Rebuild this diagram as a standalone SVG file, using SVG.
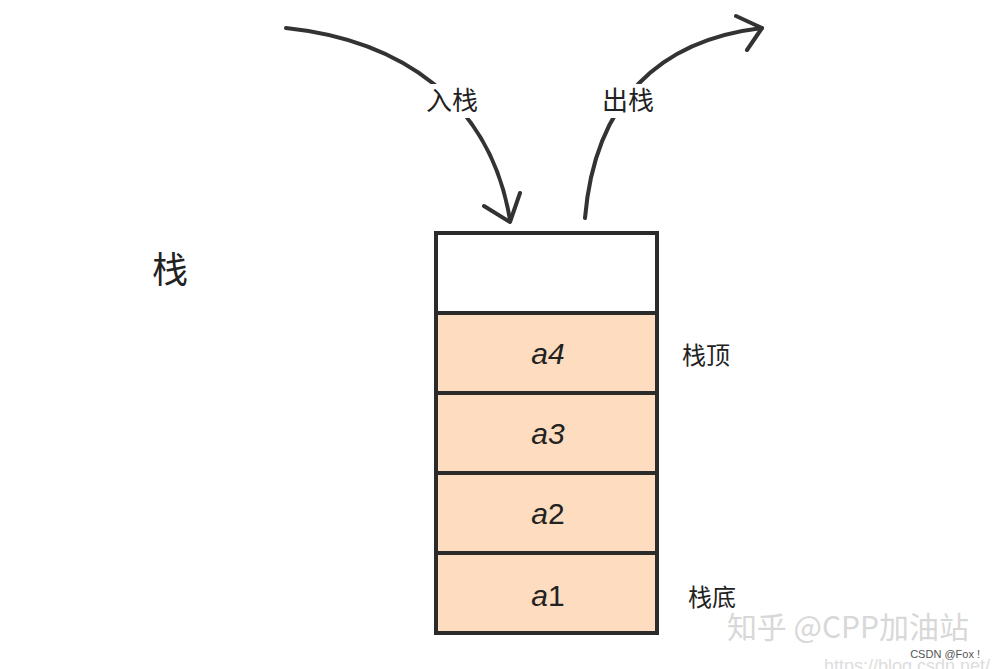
<svg xmlns="http://www.w3.org/2000/svg" width="995" height="669" viewBox="0 0 995 669">
<style>
.c{fill:#fddcbf;stroke:#2b2b2b;stroke-width:4}
.e{fill:#fff;stroke:#2b2b2b;stroke-width:4}
.t{font-family:"Noto Sans CJK SC","Liberation Sans",sans-serif;fill:#222}
.v{font-family:"Liberation Sans",sans-serif;font-size:30px;fill:#222;text-anchor:middle}
.a{fill:none;stroke:#333;stroke-width:4;stroke-linecap:round;stroke-linejoin:round}
</style>
<rect width="995" height="669" fill="#fff"/>
<g id="connectors">
<path class="a" d="M286,28 C400,40 490,100 510,220"/>
<path class="a" d="M484,206 L510,222 L520,193"/>
<path class="a" d="M585,218 C595,100 660,40 762,28"/>
<path class="a" d="M736,16 L762,28 L747,50"/>
<rect x="422" y="84" width="60" height="34" fill="#fff"/>
<rect x="598" y="84" width="60" height="34" fill="#fff"/>
<text class="t" x="452" y="110" font-size="26" text-anchor="middle">入栈</text>
<text class="t" x="628" y="110" font-size="26" text-anchor="middle">出栈</text>
</g>
<text class="t" x="170" y="283" font-size="36" text-anchor="middle">栈</text>
<g id="empty"><rect class="e" x="436" y="233" width="221" height="80"/></g>
<g id="a4"><rect class="c" x="436" y="313" width="221" height="80"/><text class="v" x="548" y="364" font-style="italic">a4</text></g>
<g id="a3"><rect class="c" x="436" y="393" width="221" height="80"/><text class="v" x="548" y="444" font-style="italic">a3</text></g>
<g id="a2"><rect class="c" x="436" y="473" width="221" height="80"/><text class="v" x="548" y="524"><tspan font-style="italic">a</tspan>2</text></g>
<g id="a1"><rect class="c" x="436" y="553" width="221" height="80"/><text class="v" x="548" y="606"><tspan font-style="italic">a</tspan>1</text></g>
<text class="t" x="706" y="364" font-size="24" text-anchor="middle">栈顶</text>
<text class="t" x="712" y="606" font-size="24" text-anchor="middle">栈底</text>
<text class="t" x="848" y="638" font-size="30" text-anchor="middle" style="fill:#d8d8d8">知乎 @CPP加油站</text>
<text x="980" y="658" font-family="Liberation Sans,sans-serif" font-size="11" text-anchor="end" fill="#555">CSDN @Fox !</text>
<text x="990" y="672" font-family="Liberation Sans,sans-serif" font-size="18" text-anchor="end" fill="#ddd">https://blog.csdn.net/</text>
</svg>
